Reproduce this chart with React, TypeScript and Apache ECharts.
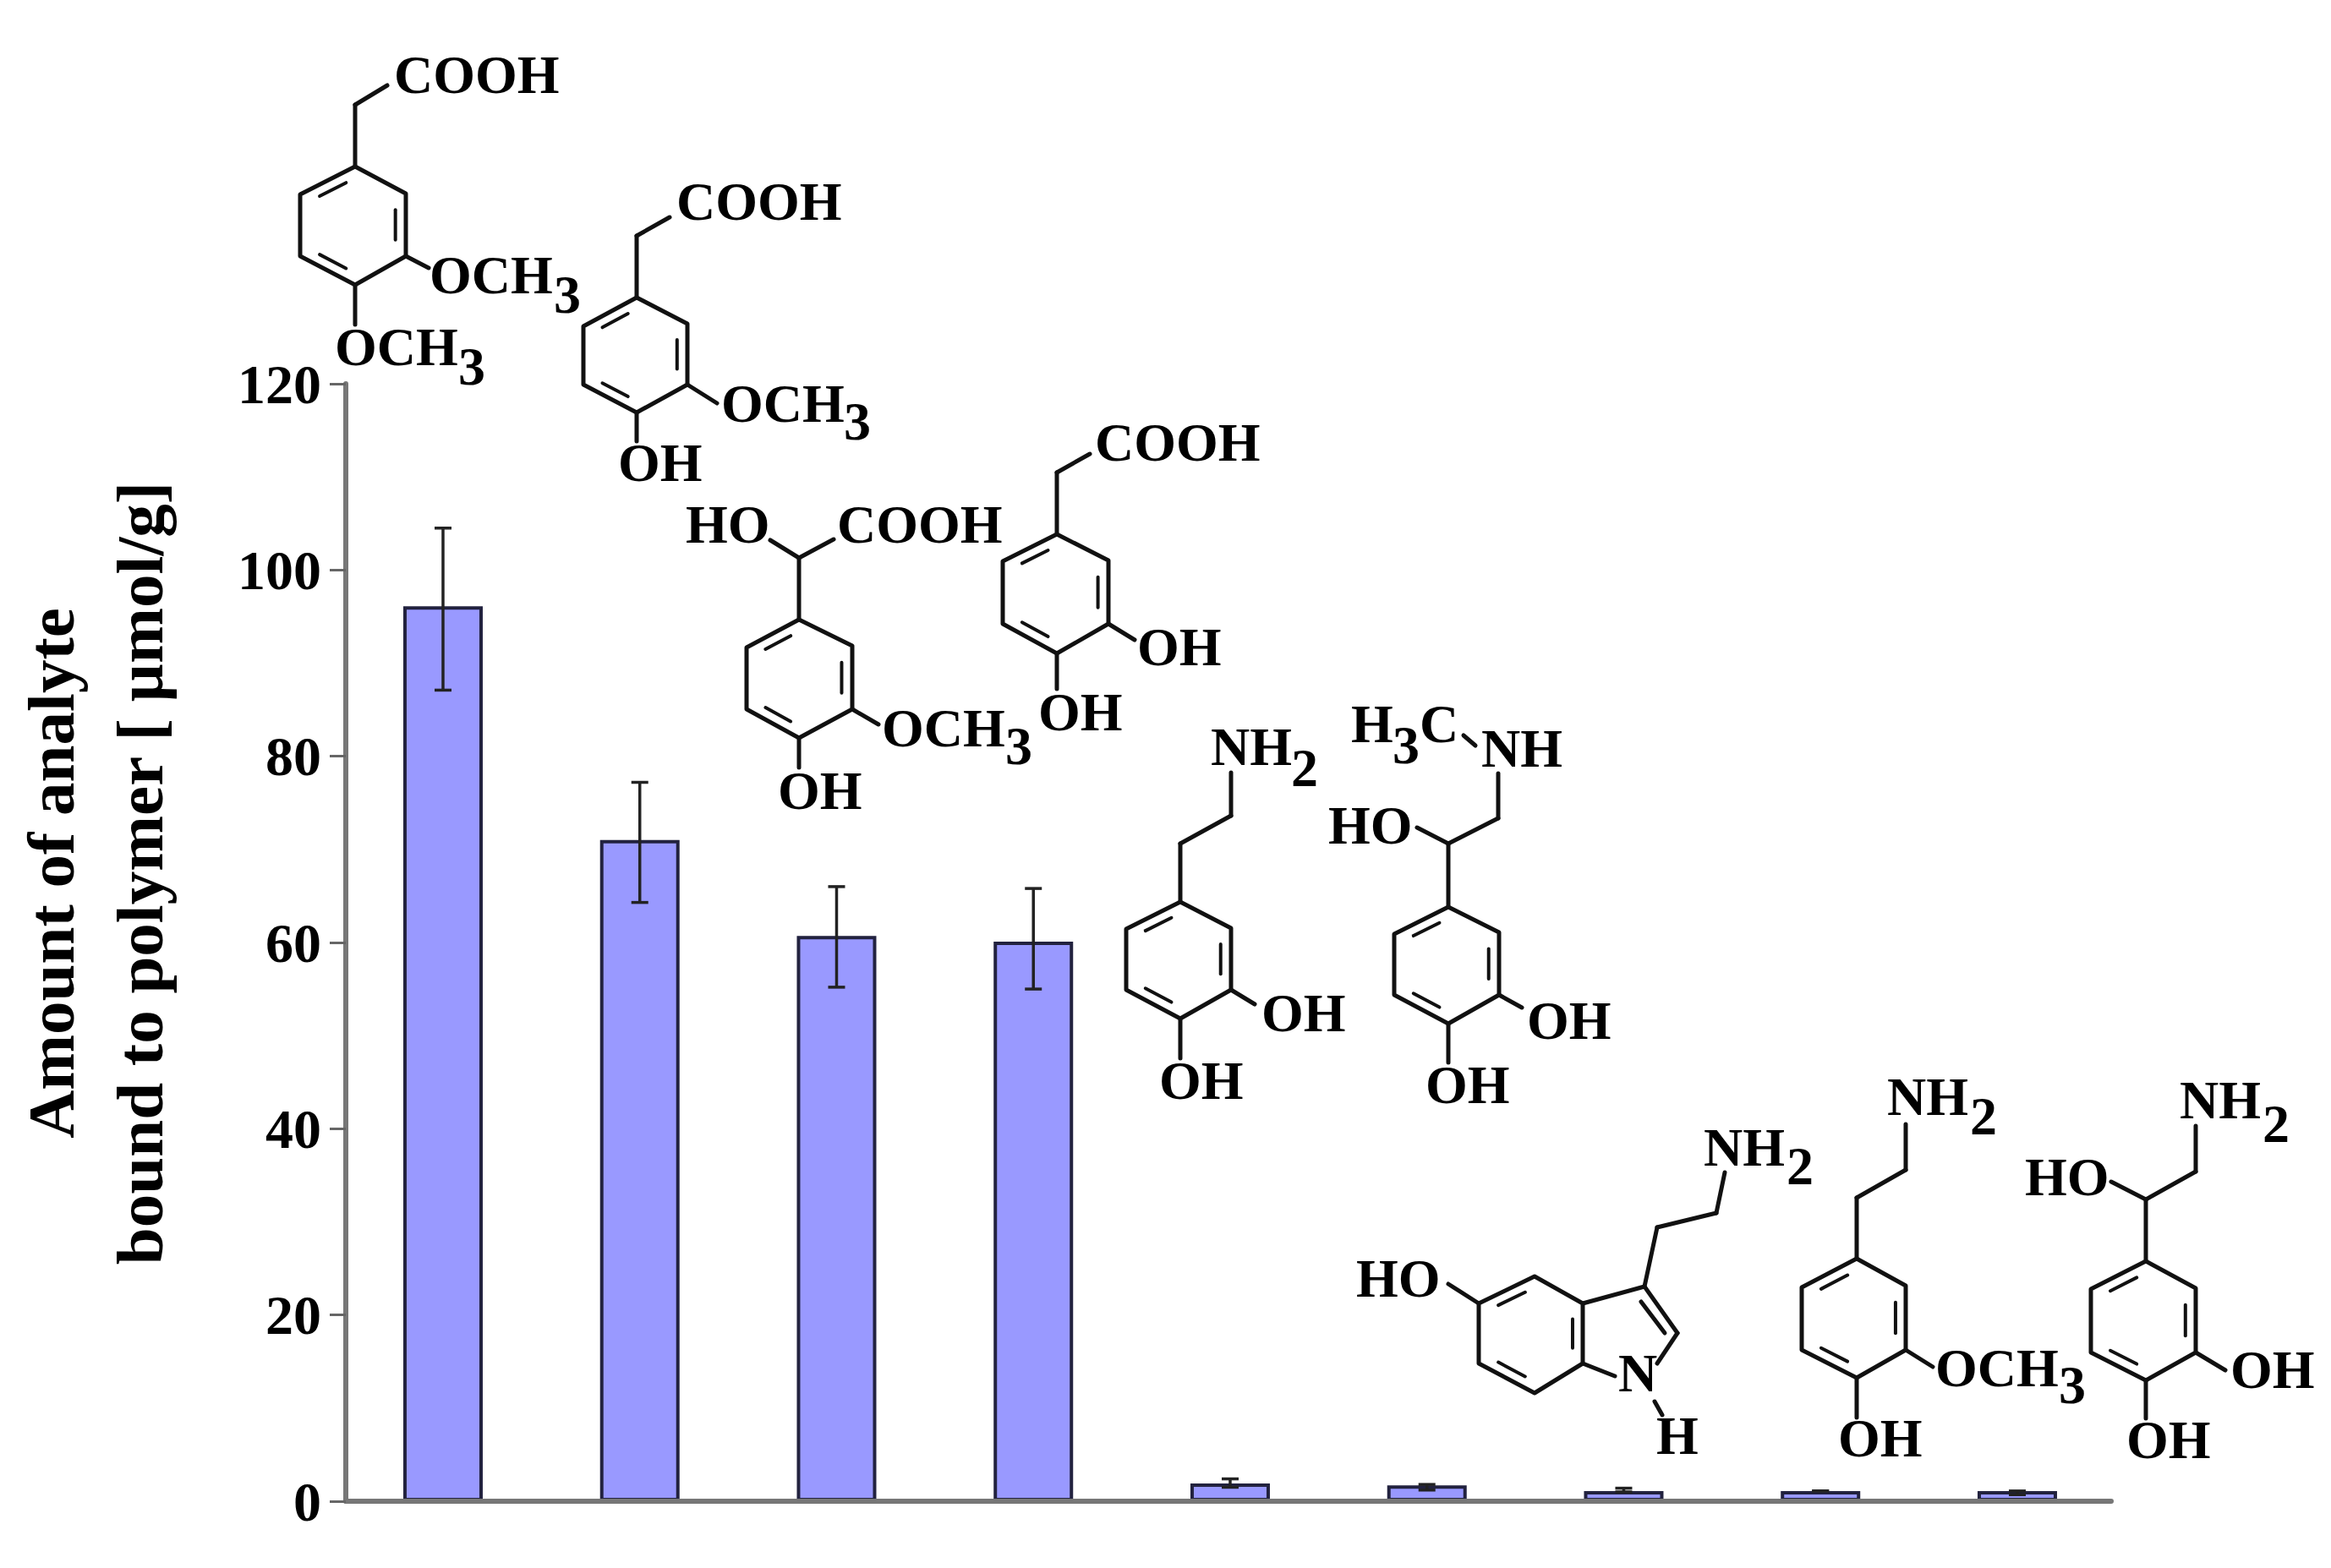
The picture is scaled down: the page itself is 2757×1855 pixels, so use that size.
import React, { useEffect, useRef } from "react";
import * as echarts from "echarts";

// Chart data
const compoundIndex = [0, 1, 2, 3, 4, 5, 6, 7, 8];
const boundAmount = [96.1, 71, 60.7, 60.1, 1.9, 1.7, 1.1, 1.1, 1.1];
const errorHigh = [104.5, 77.2, 66, 65.8, 2.4, 1.8, 1.4, 1.1, 1.1];
const errorLow = [87.1, 64.3, 55.2, 55, 1.5, 1.2, 1.0, 1.1, 0.7];
const yTickStep = 20;
const yMax = 120;
const yTitle = "Amount of analyte\nbound to polymer [ µmol/g]";

// Chemical structures (page drawing, not data marks)
type Lab = [string, number, number, string?, number?, number?];
type Mol = { ring: number[][]; bonds: number[][]; labels: Lab[] };
const molecules: Mol[] = [
  {
    ring: [[420, 197], [480, 229], [480, 303], [420, 337], [355, 303], [355, 230]],
    bonds: [[420, 197, 420, 124], [420, 124, 458, 101], [480, 303, 507, 317], [420, 337, 420, 384]],
    labels: [["COOH", 468, 90], ["OCH", 510, 327, "3", 657, 350], ["OCH", 398, 412, "3", 544, 435]],
  },
  {
    ring: [[753, 352], [813, 383], [813, 455], [753, 488], [690, 455], [690, 386]],
    bonds: [[753, 352, 753, 279], [753, 279, 792, 257], [813, 455, 848, 477], [753, 488, 753, 522]],
    labels: [["COOH", 802, 240], ["OCH", 855, 479, "3", 1000, 500], ["OH", 733, 549]],
  },
  {
    ring: [[945, 733], [1008, 764], [1008, 839], [945, 873], [883, 839], [883, 766]],
    bonds: [[911, 639, 945, 660], [945, 660, 986, 638], [945, 660, 945, 733], [1008, 839, 1039, 857], [945, 873, 945, 908]],
    labels: [["HO", 813, 622], ["COOH", 992, 622], ["OCH", 1045, 863, "3", 1191, 884], ["OH", 922, 937]],
  },
  {
    ring: [[1250, 632], [1311, 663], [1311, 738], [1250, 773], [1186, 738], [1186, 664]],
    bonds: [[1250, 632, 1250, 559], [1250, 559, 1289, 537], [1311, 738, 1342, 757], [1250, 773, 1250, 815]],
    labels: [["COOH", 1297, 525], ["OH", 1347, 767], ["OH", 1230, 844]],
  },
  {
    ring: [[1396, 1067], [1456, 1098], [1456, 1171], [1396, 1205], [1332, 1171], [1332, 1099]],
    bonds: [[1396, 1067, 1396, 998], [1396, 998, 1456, 965], [1456, 965, 1456, 914], [1456, 1171, 1484, 1188], [1396, 1205, 1396, 1252]],
    labels: [["NH", 1434, 885, "2", 1529, 910], ["OH", 1494, 1200], ["OH", 1373, 1280]],
  },
  {
    ring: [[1713, 1073], [1773, 1103], [1773, 1177], [1713, 1211], [1649, 1177], [1649, 1105]],
    bonds: [[1713, 1073, 1713, 998], [1713, 998, 1772, 968], [1772, 968, 1772, 915], [1713, 998, 1676, 979], [1731, 870, 1745, 882], [1773, 1177, 1800, 1192], [1713, 1211, 1713, 1257]],
    labels: [["H", 1600, 858, "3", 1649, 883], ["C", 1681, 858], ["NH", 1754, 887], ["HO", 1573, 978], ["OH", 1808, 1209], ["OH", 1688, 1285]],
  },
  {
    ring: [[1815, 1510], [1872, 1542], [1872, 1613], [1815, 1648], [1749, 1613], [1749, 1542]],
    bonds: [
      [1872, 1542, 1945, 1522], [1945, 1522, 1984, 1577], [1941, 1540, 1969, 1577], [1984, 1577, 1960, 1613], [1872, 1613, 1910, 1628],
      [1945, 1522, 1960, 1452], [1960, 1452, 2030, 1435], [2030, 1435, 2040, 1387], [1713, 1519, 1749, 1542], [1957, 1658, 1966, 1674],
    ],
    labels: [["NH", 2017, 1359, "2", 2115, 1381], ["HO", 1606, 1514], ["N", 1916, 1626], ["H", 1961, 1700]],
  },
  {
    ring: [[2196, 1489], [2254, 1521], [2254, 1597], [2196, 1630], [2131, 1597], [2131, 1523]],
    bonds: [[2196, 1489, 2196, 1417], [2196, 1417, 2254, 1384], [2254, 1384, 2254, 1330], [2254, 1597, 2286, 1617], [2196, 1630, 2196, 1677]],
    labels: [["NH", 2234, 1299, "2", 2332, 1322], ["OCH", 2291, 1620, "3", 2437, 1640], ["OH", 2176, 1703]],
  },
  {
    ring: [[2538, 1492], [2597, 1524], [2597, 1600], [2538, 1633], [2473, 1600], [2473, 1525]],
    bonds: [[2538, 1492, 2538, 1419], [2538, 1419, 2597, 1386], [2597, 1386, 2597, 1332], [2538, 1419, 2497, 1398], [2597, 1600, 2632, 1621], [2538, 1633, 2538, 1678]],
    labels: [["NH", 2580, 1303, "2", 2678, 1331], ["HO", 2397, 1394], ["OH", 2640, 1622], ["OH", 2517, 1705]],
  },
];

const FONT = "'Liberation Serif', 'Times New Roman', serif";
const INK = "#111111";
const LABEL_NUDGE_X = -2;
const LABEL_NUDGE_Y = -2;

function bond(b: number[], width = 5) {
  return {
    type: "line",
    silent: true,
    shape: { x1: b[0], y1: b[1], x2: b[2], y2: b[3] },
    style: { stroke: INK, lineWidth: width, lineCap: "round" },
  };
}

function text(t: string, x: number, y: number) {
  return {
    type: "text",
    silent: true,
    x: x + LABEL_NUDGE_X,
    y: y + LABEL_NUDGE_Y,
    style: {
      text: t,
      fill: "#000",
      font: `bold 64px ${FONT}`,
      align: "left",
      verticalAlign: "middle",
    },
  };
}

function innerBond(a: number[], b: number[], c: number[]) {
  const p = (t: number) => {
    const x = a[0] + (b[0] - a[0]) * t;
    const y = a[1] + (b[1] - a[1]) * t;
    return [x + (c[0] - x) * 0.2, y + (c[1] - y) * 0.2];
  };
  const s = p(0.2);
  const e = p(0.8);
  return bond([s[0], s[1], e[0], e[1]], 4);
}

function moleculeGraphics(m: Mol) {
  const r = m.ring;
  const c = [
    r.reduce((v, q) => v + q[0], 0) / 6,
    r.reduce((v, q) => v + q[1], 0) / 6,
  ];
  const els: any[] = [
    {
      type: "polygon",
      silent: true,
      shape: { points: r },
      style: { fill: "none", stroke: INK, lineWidth: 5, lineJoin: "round" },
    },
    innerBond(r[0], r[5], c),
    innerBond(r[1], r[2], c),
    innerBond(r[4], r[3], c),
  ];
  m.bonds.forEach((b) => els.push(bond(b)));
  m.labels.forEach((l) => {
    els.push(text(l[0], l[1], l[2]));
    if (l[3]) els.push(text(l[3], l[4] as number, l[5] as number));
  });
  return els;
}

export default function App() {
  const ref = useRef<HTMLDivElement>(null);
  useEffect(() => {
    document.body.style.margin = "0";
    document.body.style.background = "#fff";
    const chart = echarts.init(ref.current as HTMLDivElement, undefined, { renderer: "svg" });
    chart.setOption({
      animation: false,
      backgroundColor: "#ffffff",
      grid: { left: 409, top: 454, width: 2088, height: 1322, containLabel: false, outerBoundsMode: "none" },
      xAxis: {
        type: "value",
        min: -0.494,
        max: 8.477,
        z: 5,
        axisLine: { show: true, onZero: false, lineStyle: { color: "#777777", width: 6 } },
        axisTick: { show: false },
        axisLabel: { show: false },
        splitLine: { show: false },
      },
      yAxis: {
        type: "value",
        min: 0,
        max: yMax,
        interval: yTickStep,
        z: 5,
        name: yTitle,
        nameLocation: "middle",
        nameRotate: 90,
        nameGap: 191,
        nameTextStyle: {
          fontFamily: FONT,
          fontWeight: "bold",
          fontSize: 79,
          lineHeight: 105,
          color: "#000",
          padding: [0, 0, 0, 164],
        },
        axisLine: { show: true, onZero: false, lineStyle: { color: "#777777", width: 6 } },
        axisTick: { show: true, length: 19, lineStyle: { color: "#666666", width: 3 } },
        axisLabel: {
          margin: 29,
          fontFamily: FONT,
          fontWeight: "bold",
          fontSize: 66,
          color: "#000",
        },
        splitLine: { show: false },
      },
      series: [
        {
          type: "bar",
          data: compoundIndex.map((i) => [i, boundAmount[i]]),
          barWidth: 94,
          itemStyle: { color: "#9999FF", borderColor: "#22223f", borderWidth: 4 },
          silent: true,
        },
        {
          type: "custom",
          data: compoundIndex.map((i) => [i, errorLow[i], errorHigh[i]]),
          encode: { x: 0, y: [1, 2] },
          silent: true,
          z: 4,
          renderItem: (_p: any, api: any) => {
            const x = api.value(0);
            const lo = api.coord([x, api.value(1)]);
            const hi = api.coord([x, api.value(2)]);
            const cap = 10;
            const style = { stroke: "#222222", lineWidth: 3.5, fill: "none" };
            return {
              type: "group",
              children: [
                { type: "line", shape: { x1: lo[0], y1: lo[1], x2: hi[0], y2: hi[1] }, style },
                { type: "line", shape: { x1: lo[0] - cap, y1: lo[1], x2: lo[0] + cap, y2: lo[1] }, style },
                { type: "line", shape: { x1: hi[0] - cap, y1: hi[1], x2: hi[0] + cap, y2: hi[1] }, style },
              ],
            };
          },
        },
      ],
      graphic: {
        elements: [{ type: "group", z: 10, children: molecules.flatMap(moleculeGraphics) }],
      },
    });
    return () => chart.dispose();
  }, []);
  return <div ref={ref} style={{ width: 2757, height: 1855, background: "#fff" }} />;
}
